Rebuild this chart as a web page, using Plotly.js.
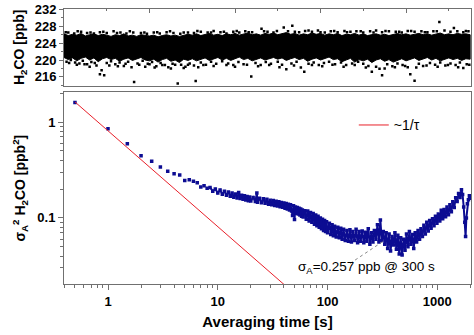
<!DOCTYPE html>
<html><head><meta charset="utf-8">
<script src="https://cdn.plot.ly/plotly-3.0.1.min.js"></script>
<style>html,body{margin:0;padding:0;background:#fff}#c{width:474px;height:335px}</style>
</head><body><div id="c"></div>
<script>
// ---- Top panel: H2CO time series (dense band + scattered points) ----
const bandT = [0,0.05,0.1,0.15,0.2,0.25,0.3,0.35,0.4,0.45,0.5,0.55,0.6,0.65,0.7,0.75,0.8,0.85,0.9,0.95,
  1,1.05,1.1,1.15,1.2,1.25,1.3,1.35,1.4,1.45,1.5,1.55,1.6,1.65,1.7,1.75,1.8,1.85,1.9,1.95,
  2,2.05,2.1,2.15,2.2,2.25,2.3,2.35,2.4,2.45,2.5,2.55,2.6,2.65,2.7,2.75,2.8,2.85,2.9,2.95,
  3,3.05,3.1,3.15,3.2,3.25,3.3,3.35,3.4,3.45,3.5,3.55,3.6,3.65,3.7,3.75,3.8,3.85,3.9,3.95,
  4,4.05,4.1,4.15,4.2,4.25,4.3,4.35,4.4,4.45,4.5,4.55,4.6,4.65,4.7,4.75];
const bandUpper = [226.2,225.8,226.1,225.9,226.3,225.7,226.0,226.2,225.8,226.1,
  225.9,225.6,226.0,225.8,226.2,225.7,225.9,225.6,226.0,225.8,
  225.7,225.9,225.5,225.8,226.0,225.7,225.9,225.6,225.8,226.1,
  225.9,226.2,225.8,226.0,226.3,225.9,226.1,225.8,226.2,226.0,
  226.3,225.9,226.1,226.4,226.0,226.2,225.9,226.3,226.1,226.4,
  226.0,226.2,226.5,226.1,226.3,225.9,226.2,226.0,226.4,226.1,
  226.3,225.9,226.2,226.0,226.3,225.8,226.1,226.0,226.3,225.9,
  226.2,225.8,226.0,226.2,225.9,226.1,225.8,226.0,226.3,226.0,
  226.2,225.9,226.1,226.3,226.0,226.2,225.9,226.1,226.4,226.0,
  226.2,226.0,226.3,226.1,226.2,226.0];
const bandLower = [220.6,220.1,220.5,219.8,220.4,220.7,220.0,220.5,219.6,220.3,
  220.6,220.1,220.4,219.7,220.2,220.5,219.9,220.3,220.6,220.0,
  219.8,220.2,219.5,220.1,220.4,219.7,220.0,219.4,220.2,219.9,
  220.3,219.8,220.1,220.5,219.9,220.2,220.6,220.0,220.4,219.9,
  220.3,220.7,220.1,220.4,219.8,220.2,220.5,220.0,220.3,220.6,
  220.2,220.5,219.9,220.3,220.6,220.1,220.4,219.7,220.2,220.5,
  220.0,220.4,220.7,220.1,220.3,219.6,220.0,220.4,219.5,220.1,
  219.8,220.2,219.4,220.0,220.3,219.7,220.1,219.5,219.9,220.3,
  219.8,220.2,220.5,219.9,220.3,220.6,220.0,220.4,219.8,220.2,
  220.5,220.1,220.4,219.9,220.3,220.2];
const upT = [0.05,0.12,0.2,0.27,0.35,0.42,0.5,0.58,0.66,0.73,0.81,0.9,0.97,1.05,1.12,1.2,1.28,1.36,1.45,1.52,1.6,1.68,1.75,1.83,1.9,1.98,2.05,2.12,2.2,2.31,2.38,2.45,2.57,2.62,2.67,2.75,2.82,2.9,2.97,3.05,3.12,3.2,3.28,3.35,3.42,3.5,3.58,3.65,3.72,3.8,3.88,3.95,4.02,4.1,4.18,4.25,4.32,4.39,4.45,4.52,4.6,4.67,4.73,
  0.02,0.16,0.31,0.46,0.62,0.77,0.94,1.09,1.24,1.4,1.56,1.72,1.87,2.02,2.16,2.34,2.49,2.7,2.86,3.0,3.16,3.31,3.47,3.62,3.76,3.92,4.06,4.22,4.36,4.56,4.7];
const upV = [226.5,226.3,226.7,226.4,226.3,226.6,226.4,226.8,226.5,226.3,226.5,226.4,226.2,226.5,226.3,226.6,226.4,226.2,226.5,226.4,226.7,226.5,226.9,226.6,226.3,226.7,226.5,226.8,226.6,227.4,226.7,226.5,227.7,226.8,228.1,226.6,226.9,226.7,227.0,226.5,226.8,226.6,226.9,226.7,226.8,226.5,226.8,227.0,226.6,226.8,226.7,226.5,226.9,226.7,226.8,226.6,226.8,229.0,227.0,226.7,226.8,226.6,226.8,
  226.6,226.8,226.5,226.7,226.4,226.8,226.5,226.6,226.8,226.5,226.9,226.5,226.7,226.9,226.6,226.8,226.9,226.7,227.0,226.6,226.9,226.6,226.8,226.5,226.9,226.7,226.9,226.6,226.8,227.6,226.9];
const loT = [0.03,0.08,0.13,0.18,0.22,0.27,0.32,0.38,0.42,0.44,0.47,0.5,0.55,0.6,0.65,0.7,0.75,0.82,0.86,0.92,0.98,1.03,1.08,1.13,1.18,1.22,1.27,1.33,1.37,1.42,1.47,1.52,1.54,1.6,1.66,1.72,1.78,1.85,1.92,1.98,2.04,2.1,2.19,2.24,2.3,2.36,2.42,2.5,2.55,2.6,2.66,2.72,2.81,2.86,2.92,2.98,3.04,3.1,3.17,3.24,3.3,3.37,3.44,3.5,3.56,3.6,3.65,3.69,3.72,3.78,3.84,3.9,3.96,4.02,4.05,4.1,4.15,4.2,4.28,4.34,4.4,4.46,4.52,4.58,4.63,4.67,4.71,
  0.06,0.15,0.24,0.3,0.36,0.53,0.63,0.72,0.79,0.88,0.95,1.0,1.06,1.15,1.25,1.3,1.4,1.45,1.57,1.63,1.75,1.9,2.0,2.14,2.27,2.4,2.52,2.69,2.77,2.9,3.02,3.14,3.27,3.4,3.53,3.75,3.87,3.99,4.12,4.24,4.37,4.49,4.61,4.74];
const loV = [219.6,220.0,219.4,219.2,219.8,219.0,219.5,218.7,216.6,217.6,216.4,219.3,219.7,219.0,219.4,218.6,219.6,214.8,219.2,219.8,219.1,219.5,218.5,219.3,218.8,218.3,219.1,214.4,218.9,218.4,219.2,218.7,215.0,219.4,218.9,219.6,219.1,219.7,219.2,218.8,219.5,219.0,216.1,219.3,218.8,219.5,219.1,219.6,218.9,217.8,219.2,219.6,217.2,219.1,219.4,218.8,219.3,219.6,219.0,219.4,218.8,219.2,219.6,219.1,218.6,217.2,218.4,217.9,216.4,219.0,218.5,219.2,218.8,218.3,216.6,215.1,219.1,218.6,219.3,218.9,219.4,218.7,219.2,218.8,219.4,218.1,219.0,
  219.3,218.9,219.0,218.4,219.3,218.7,218.5,219.1,218.3,218.9,218.4,219.0,218.2,218.8,218.0,218.9,218.1,218.9,218.3,218.8,218.6,218.8,218.4,218.9,218.5,218.8,218.3,218.7,218.2,218.8,218.5,218.9,218.4,218.8,218.2,218.0,218.3,218.6,218.2,218.7,218.4,218.8,218.3,218.9];

// ---- Bottom panel: Allan variance ----
const tauSparse = [0.5,1,1.5,2,2.5,3,3.5,4,4.5,5,5.5,6,6.5,7,7.5,8];
const varSparse = [1.6,0.85,0.594,0.446,0.389,0.34,0.306,0.288,0.28,0.245,0.25,0.241,0.232,0.21,0.217,0.204];
const tauDense = [8.5,9,9.5,10,10.5,11,11.5,12,12.5,13,13.5,14,14.5,15,15.5,16,16.5,17,17.5,18,18.5,19,19.5,20,
  21,22,22.7,23,24,25,26,27,28,29,30,31,32,33,34,35,36,37,38,39,40,41,42,43,44,45,46,47,48,49,50,51,52,53,54,55,56,57,58,59,60,
  62,64,66,68,70,72,74,76,78,80,82,84,86,88,90,92,94,96,98,100,
  104,107,110,113,116,120,124,128,132,136,140,145,150,155,160,165,170,176,182,188,194,200,
  207,214,221,228,235,243,251,259,267,276,285,294,303,312,322,332,342,353,364,375,387,399,411,424,437,450,464,478,493,508,524,540,557,574,592,610,629,648,668,689,
  710,732,755,778,802,827,852,878,905,933,962,992,1022,1054,1086,1120,1154,1190,1226,1264,1303,1343,1384,1427,1471,1516,1563,1611,1660,1700,1740,1780,1810,1840,1880,1920,1960,2000];
const varDense = [0.208,0.190,0.200,0.182,0.195,0.176,0.190,0.172,0.186,0.168,0.182,0.164,0.178,0.161,0.184,0.159,0.172,0.156,0.170,0.154,0.167,0.151,0.165,0.150,
  0.163,0.148,0.182,0.146,0.160,0.144,0.158,0.142,0.156,0.139,0.153,0.137,0.152,0.135,0.149,0.133,0.147,0.131,0.145,0.129,0.143,0.126,0.141,0.124,0.139,0.121,0.137,0.118,0.106,0.134,0.096,0.130,0.112,0.128,0.110,0.126,0.107,0.124,0.104,0.121,0.102,
  0.119,0.097,0.118,0.093,0.114,0.090,0.111,0.086,0.107,0.083,0.104,0.080,0.100,0.077,0.097,0.074,0.094,0.072,0.091,0.070,
  0.088,0.067,0.085,0.065,0.082,0.063,0.080,0.062,0.078,0.060,0.076,0.058,0.074,0.057,0.075,0.056,0.072,0.058,0.076,0.055,0.072,0.057,
  0.073,0.055,0.071,0.057,0.077,0.053,0.070,0.056,0.074,0.060,0.085,0.056,0.095,0.058,0.072,0.053,0.070,0.048,0.068,0.045,0.064,0.052,0.070,0.047,0.066,0.042,0.062,0.041,0.060,0.046,0.068,0.050,0.072,0.053,0.067,0.048,0.070,0.056,0.074,0.060,
  0.077,0.064,0.084,0.068,0.090,0.073,0.094,0.078,0.098,0.083,0.104,0.088,0.110,0.093,0.120,0.098,0.122,0.103,0.130,0.108,0.137,0.116,0.147,0.128,0.162,0.148,0.180,0.163,0.197,0.175,0.130,0.090,0.064,0.100,0.140,0.155,0.170,0.160];
const tauFit = [0.5, 2000];
const varFit = [1.62, 0.000405];
const legendLabel = '~1/\u03c4';
const noteText = '\u03c3<sub>A</sub>=0.257 ppb @ 300 s';

const FONT = 'Liberation Sans, Arial, sans-serif';
const BLUE = '#0c0c92';
const FRAME = '#707070';

const data = [
  {x: bandT.concat(bandT.slice().reverse()), y: bandUpper.concat(bandLower.slice().reverse()),
   xaxis:'x', yaxis:'y', type:'scatter', mode:'lines', fill:'toself', fillcolor:'#000',
   line:{color:'#000', width:1}, showlegend:false, hoverinfo:'skip'},
  {x: upT, y: upV, xaxis:'x', yaxis:'y', type:'scatter', mode:'markers',
   marker:{symbol:'square', size:2.5, color:'#000'}, showlegend:false},
  {x: loT, y: loV, xaxis:'x', yaxis:'y', type:'scatter', mode:'markers',
   marker:{symbol:'square', size:2.5, color:'#000'}, showlegend:false},
  {x: tauSparse, y: varSparse, xaxis:'x2', yaxis:'y2', type:'scatter', mode:'markers',
   marker:{symbol:'square', size:3.5, color:BLUE}, showlegend:false},
  {x: tauDense, y: varDense, xaxis:'x2', yaxis:'y2', type:'scatter', mode:'lines+markers',
   line:{color:BLUE, width:2}, marker:{symbol:'square', size:3.5, color:BLUE}, showlegend:false},
  {x: tauFit, y: varFit, xaxis:'x2', yaxis:'y2', type:'scatter', mode:'lines',
   line:{color:'#e8202a', width:1}, name: legendLabel, showlegend:true}
];

const tickFont = {family: FONT, size: 13, color:'#000', weight: 'bold'};
const layout = {
  width: 474, height: 335,
  margin: {l:64, r:3, t:9, b:51},
  paper_bgcolor:'#fff', plot_bgcolor:'#fff',
  font: {family: FONT, color:'#000'},
  showlegend: true,
  legend: {x:0.712, y:0.635, xanchor:'left', yanchor:'top', bgcolor:'rgba(0,0,0,0)',
           font:{family:FONT, size:14, color:'#000'}},
  xaxis: {domain:[0,1], anchor:'y', range:[0,4.76], side:'top', showticklabels:false,
          ticks:'inside', ticklen:4, tickcolor:FRAME, dtick:1, tick0:0,
          minor:{ticks:'inside', ticklen:2, dtick:0.5, tickcolor:FRAME},
          showline:true, linecolor:FRAME, linewidth:1, mirror:true, showgrid:false, zeroline:false},
  yaxis: {domain:[0.721,1], anchor:'x', range:[213.9,232.1], tickvals:[216,220,224,228,232],
          ticks:'outside', ticklen:4, tickcolor:FRAME, tickfont:tickFont,
          minor:{ticks:'outside', ticklen:2, dtick:2, tick0:0, tickcolor:FRAME},
          showline:true, linecolor:FRAME, linewidth:1, mirror:true, showgrid:false, zeroline:false,
          title:{text:'H<sub>2</sub>CO [ppb]', font:{family:FONT, size:14, weight:'bold'}, standoff:6}},
  xaxis2: {domain:[0,1], anchor:'y2', type:'log', range:[-0.401,3.307], dtick:1,
           exponentformat:'none', ticks:'outside', ticklen:5, tickcolor:FRAME, tickfont:tickFont,
           minor:{ticks:'outside', ticklen:3, tickcolor:FRAME},
           showline:true, linecolor:FRAME, linewidth:1, mirror:true, showgrid:false, zeroline:false,
           title:{text:'Averaging time [s]', font:{family:FONT, size:15, weight:'bold'}, standoff:8}},
  yaxis2: {domain:[0,0.697], anchor:'x2', type:'log', range:[-1.69,0.31], dtick:1,
           exponentformat:'none', ticks:'outside', ticklen:5, tickcolor:FRAME, tickfont:tickFont,
           minor:{ticks:'outside', ticklen:3, tickcolor:FRAME},
           showline:true, linecolor:FRAME, linewidth:1, mirror:true, showgrid:false, zeroline:false,
           title:{text:'\u03c3<sub>A</sub><sup>2</sup> H<sub>2</sub>CO [ppb<sup>2</sup>]', font:{family:FONT, size:14, weight:'bold'}, standoff:8}},
  annotations: [
    {xref:'paper', yref:'paper', x:0.57, y:0.06, xanchor:'left', yanchor:'middle', showarrow:false,
     text: noteText, font:{family:FONT, size:13.5, color:'#000'}}
  ],
  shapes: [
    {type:'line', xref:'paper', yref:'paper', x0:0.703, y0:0.075, x1:0.789, y1:0.16,
     line:{color:'#888', width:1, dash:'dot'}}
  ]
};
Plotly.newPlot('c', data, layout, {staticPlot:true});
</script></body></html>
